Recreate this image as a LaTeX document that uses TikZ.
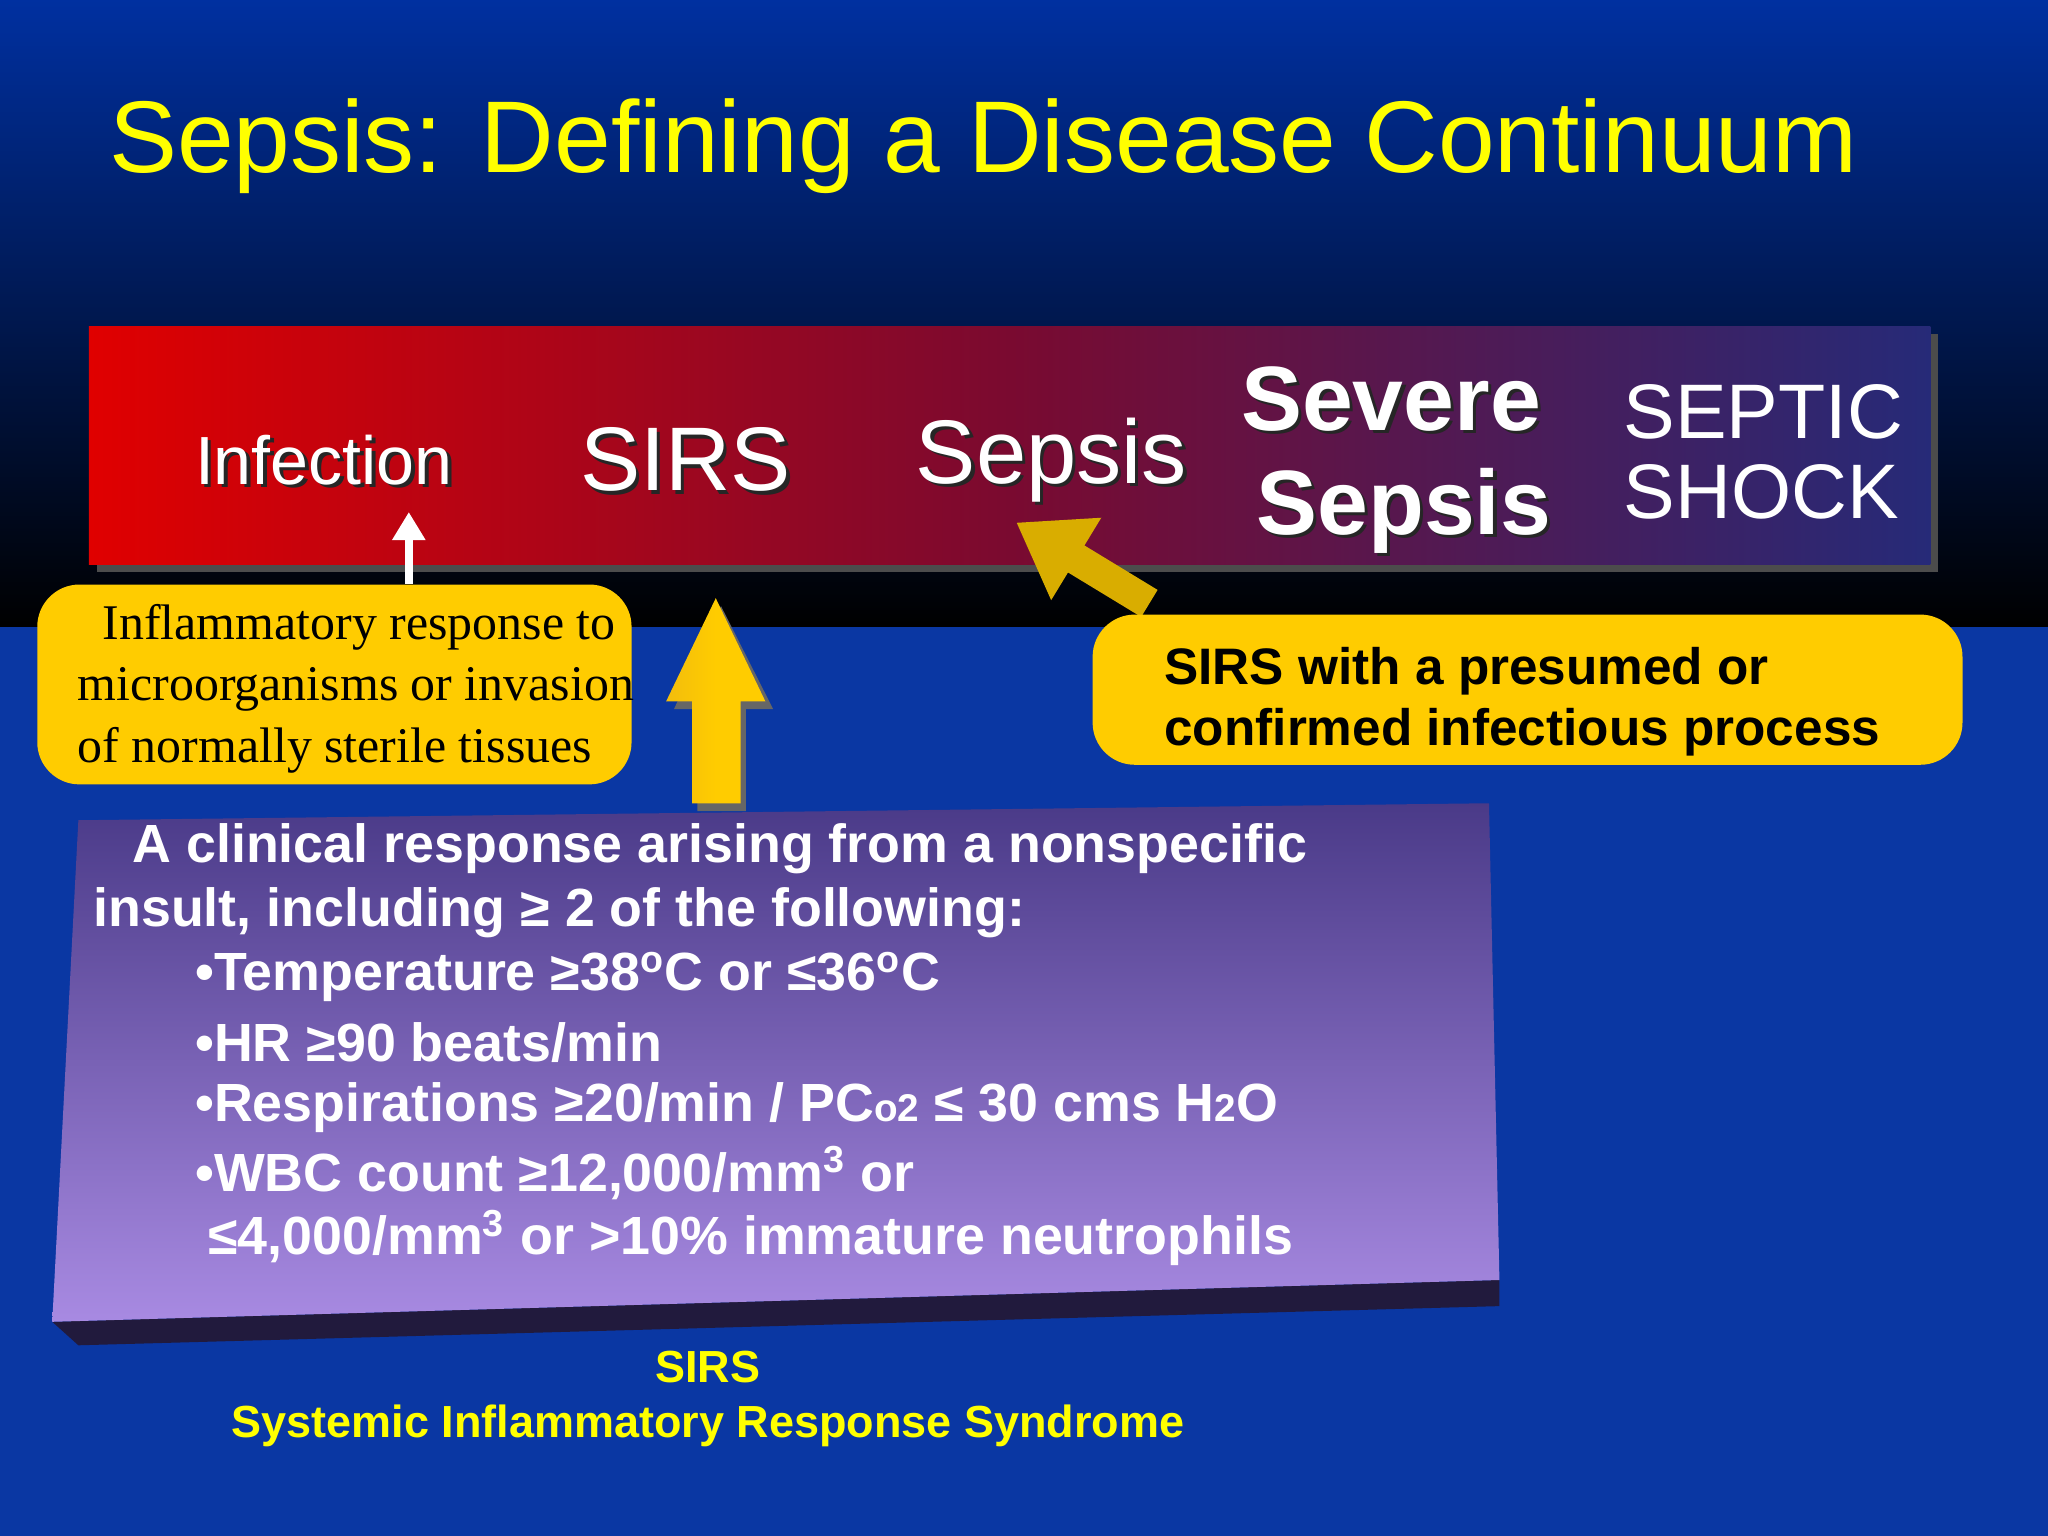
\documentclass[tikz,border=0pt]{standalone}
\usepackage{fontspec}
\setmainfont{Liberation Sans}
\newfontfamily\serifx{Liberation Serif}
\usetikzlibrary{shadows,calc,arrows.meta}
\definecolor{bgblue}{HTML}{0A37A3}
\definecolor{topblue}{HTML}{0030A0}
\definecolor{ttl}{HTML}{FFFF00}
\definecolor{gold}{HTML}{FFCC00}
\definecolor{barred}{HTML}{E00000}
\definecolor{barmid}{HTML}{7A0A30}
\definecolor{barblue}{HTML}{262A78}
\definecolor{pdark}{HTML}{4A3A88}
\definecolor{plight}{HTML}{A88AE2}
\tikzset{
 ybox/.style={fill=gold,rounded corners=12pt,draw=none},
 wtxt/.style={text=white,font=\bfseries\fontsize{15.3}{18.2}\selectfont,anchor=west},
}
\newcommand{\shtext}[4]{% pos, font, text, name
 \node[text=black!85,font=#2,align=center] at ($#1+(2.5,2.5)$) {#3};
 \node[text=white,font=#2,align=center] (#4) at #1 {#3};}
\begin{document}
\begin{tikzpicture}[x=0.01306cm,y=-0.01306cm]
\useasboundingbox (0,0) rectangle (1568,1176);
% background
\shade[top color=topblue,bottom color=black] (0,0) rectangle (1568,480);
\fill[bgblue] (0,480) rectangle (1568,1176);
% title
\node[anchor=west,text=ttl,font=\fontsize{29}{34}\selectfont] (title) at (74,112) {Sepsis: Defining a Disease Continuum};
% bar
\fill[black!70] (74,256) rectangle (1484,438);
\shade[left color=barred,right color=barblue,middle color=barmid] (68,250) rectangle (1478,432);
\shtext{(248,352)}{\fontsize{19.4}{22}\selectfont}{Infection}{inf}
\shtext{(525,352)}{\fontsize{25.7}{30}\selectfont}{SIRS}{sirs}
\shtext{(805,352)}{\fontsize{25.7}{30}\selectfont}{Sepsis}{sep}
\shtext{(1065,352)}{\bfseries\fontsize{26}{29.5}\selectfont}{Severe\\\ Sepsis}{sev}
\node[text=white,font=\fontsize{22}{23}\selectfont,align=left] (shock) at (1350,346) {SEPTIC\\SHOCK};
% white arrow
\coordinate (wa1) at (313,447);
\coordinate (wa2) at (313,392);
\draw[white,line width=2.2pt,-{Triangle[width=9pt,length=8pt]}] (wa1) -- (wa2);
% left yellow box
\node[ybox,minimum width=455*0.01306cm,minimum height=153*0.01306cm,anchor=north west] (lbox) at (28,447) {};
\node[font=\serifx\fontsize{14.2}{17.5}\selectfont,align=left,anchor=west] (ltxt) at (50,527) {\ \ Inflammatory response to\\microorganisms or invasion\\of normally sterile tissues};
% big gold arrow
\fill[black!60] (534,621) -- (534,543) -- (516,543) -- (552,464) -- (592,543) -- (571,543) -- (571,621) -- cycle;
\shade[left color=gold!80!brown,right color=gold,middle color=gold] (530,615) -- (530,537) -- (510,537) -- (548,458) -- (586,537) -- (567,537) -- (567,615) -- cycle;
% diagonal arrow
\coordinate (da1) at (880,462);
\coordinate (da2) at (778,400);
\draw[gold!85!black,line width=9pt,-{Triangle[width=26pt,length=20pt]}] (da1) -- (da2);
% right yellow box
\node[ybox,minimum width=666*0.01306cm,minimum height=115*0.01306cm,anchor=north west] (rbox) at (836,470) {};
\node[font=\bfseries\fontsize{14.6}{17.4}\selectfont,align=left,anchor=west] (rtxt) at (882,537) {SIRS with a presumed or\\confirmed infectious process};
% purple box
\fill[black!55!pdark] (40,1012) -- (1148,980) -- (1148,1000) -- (60,1030) -- cycle;
\shade[top color=pdark,bottom color=plight] (60,628) -- (1140,615) -- (1148,980) -- (40,1012) -- cycle;
\node[wtxt] (p1) at (92,650) {A clinical response arising from a nonspecific};
\node[wtxt] (p2) at (62,699) {insult, including ≥ 2 of the following:};
\node[wtxt] (p3) at (140,748) {•Temperature ≥38\textsuperscript{o}C or ≤36\textsuperscript{o}C};
\node[wtxt] (p4) at (140,798) {•HR ≥90 beats/min};
\node[wtxt] (p5) at (140,848) {•Respirations ≥20/min / PC{\fontsize{11}{12}\selectfont o2} ≤ 30 cms H{\fontsize{11}{12}\selectfont 2}O};
\node[wtxt] (p6) at (140,898) {•WBC count ≥12,000/mm\textsuperscript{3} or};
\node[wtxt] (p7) at (150,948) {≤4,000/mm\textsuperscript{3} or >10\% immature neutrophils};
% caption
\node[text=ttl,font=\bfseries\fontsize{12.8}{15.5}\selectfont,align=center] (cap) at (542,1071) {SIRS\\Systemic Inflammatory Response Syndrome};
\end{tikzpicture}
\end{document}
